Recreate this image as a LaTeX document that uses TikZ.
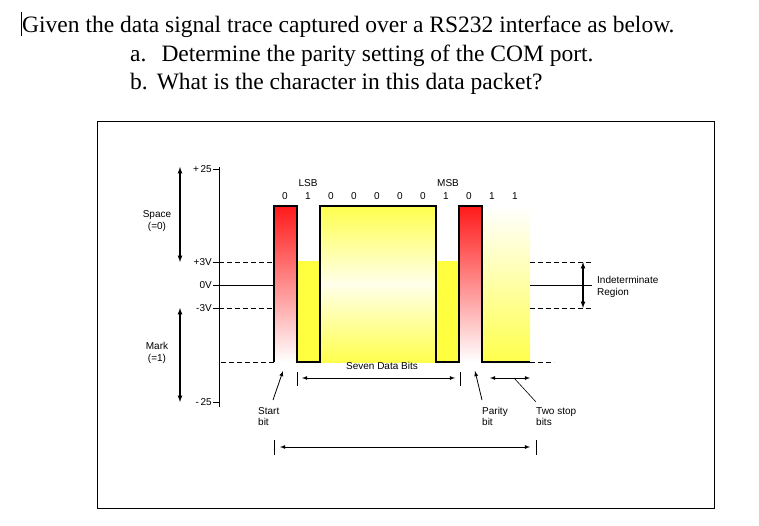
\documentclass[tikz,border=0pt]{standalone}
\usepackage{fontspec}
\setmainfont{Liberation Serif}
\newfontfamily\arial{Liberation Sans}
\begin{document}
\begin{tikzpicture}[x=1pt,y=-1pt,
  sig/.style={line width=1.3pt},
  lbl/.style={font=\arial\fontsize{10}{11.5}\selectfont,inner sep=0pt},
  ttl/.style={font=\fontsize{23.5}{26}\selectfont,inner sep=0pt,anchor=base west},
  dsh/.style={dashed,dash pattern=on 5pt off 3pt,line width=0.8pt},
  arr/.style={line width=0.8pt,-latex},
  darr/.style={line width=0.8pt,latex-latex}]
\useasboundingbox (0,0) rectangle (759,526);
\draw[line width=0.5pt] (21,12) -- (21,36);
\node[ttl] (t0) at (22,33) {Given the data signal trace captured over a RS232 interface as below.};
\node[ttl] (ta) at (130,62) {a.\hspace{15pt}Determine the parity setting of the COM port.};
\node[ttl] (tb) at (130,90) {b.\hspace{9pt}What is the character in this data packet?};
\draw[line width=0.6pt] (97,121) rectangle (714,508);
% shadings
\shade[top color=red!90,bottom color=white] (274,206) rectangle (297,362);
\shade[top color=red!90,bottom color=white] (459,206) rectangle (482,362);
\shade[top color=yellow!75,bottom color=yellow!75] (297,262) rectangle (320,362);
\shade[top color=yellow!75,bottom color=yellow!75] (436,262) rectangle (459,362);
\shade[top color=yellow!70,bottom color=yellow!70,middle color=yellow!8] (320,206) rectangle (436,362);
\shade[top color=white,bottom color=yellow!70] (482,206) rectangle (530,362);
% axis
\draw[line width=0.8pt] (219,167) -- (219,407);
\foreach \y/\t [count=\i] in {169/+\,25,262/+3V,285/0V,308/-3V,402/-\,25}{
  \draw[line width=0.8pt] (213,\y) -- (219,\y);
  \node[lbl,anchor=east] (tk\i) at (212,\y) {\t};}
\draw[dsh] (219,262) -- (274,262); \draw[dsh] (219,308) -- (274,308);
\draw[line width=0.8pt] (219,285) -- (274,285);
\draw[dsh] (530,262) -- (592,262); \draw[dsh] (530,308) -- (592,308);
\draw[line width=0.8pt] (530,285) -- (592,285);
\draw[dsh] (221,362) -- (274,362);
\draw[sig] (274,362) -- (274,206) -- (297,206) -- (297,362) -- (320,362) -- (320,206) -- (436,206) -- (436,362) -- (459,362) -- (459,206) -- (482,206) -- (482,362) -- (530,362);
\draw[dsh] (530,362) -- (554,362);
\coordinate (ia) at (583,262); \coordinate (ib) at (583,308);
\draw[darr,line width=1.2pt] (ia) -- (ib);
\node[lbl,anchor=west,align=left] (ind) at (597,287) {Indeterminate\\Region};
% left
\coordinate (s1) at (180,167); \coordinate (s2) at (180,262);
\draw[darr,line width=1.2pt] (s1) -- (s2);
\coordinate (m1) at (180,308); \coordinate (m2) at (180,402);
\draw[darr,line width=1.2pt] (m1) -- (m2);
\node[lbl,align=center] (sp) at (157,221) {Space\\(=0)};
\node[lbl,align=center] (mk) at (157,353) {Mark\\(=1)};
% bits
\foreach \x/\b [count=\i] in {285/0,308/1,331/0,354/0,377/0,400/0,423/0,446/1,469/0,492/1,515/1}
  \node[lbl] (b\i) at (\x,196) {\b};
\node[lbl] (lsb) at (308,183) {LSB};
\node[lbl] (msb) at (448,183) {MSB};
% below
\draw[line width=0.6pt] (297,372) -- (297,386);
\draw[line width=0.6pt] (460,372) -- (460,386);
\coordinate (d1) at (302,378); \coordinate (d2) at (455,378);
\draw[darr] (d1) -- (d2);
\node[lbl] (sdb) at (382,366) {Seven Data Bits};
\coordinate (sa) at (273,400); \coordinate (sb) at (283,371);
\draw[arr] (sa) -- (sb);
\node[lbl,anchor=north west,align=left] (stb) at (258,407) {Start\\bit};
\coordinate (pa) at (482,400); \coordinate (pb) at (475,371);
\draw[arr] (pa) -- (pb);
\node[lbl,anchor=north west,align=left] (pab) at (482,407) {Parity\\bit};
\coordinate (o1) at (490,378); \coordinate (o2) at (530,378);
\draw[darr] (o1) -- (o2);
\coordinate (oa) at (514,378); \coordinate (ob) at (536,402);
\draw[line width=0.6pt] (oa) -- (ob);
\node[lbl,anchor=north west,align=left] (tsb) at (536,407) {Two stop\\bits};
\draw[line width=0.6pt] (274,440) -- (274,455);
\draw[line width=0.6pt] (536,440) -- (536,455);
\coordinate (f1) at (280,447); \coordinate (f2) at (530,447);
\draw[darr] (f1) -- (f2);
\end{tikzpicture}
\end{document}
